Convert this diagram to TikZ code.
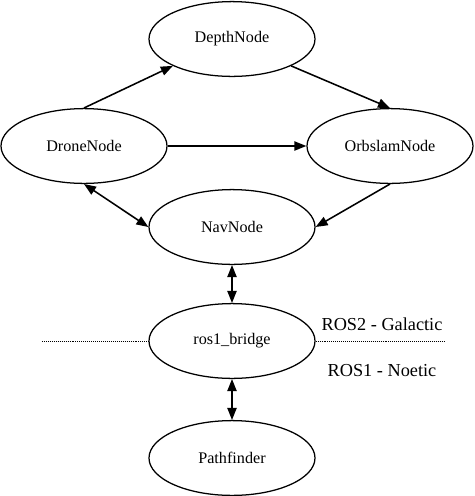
\documentclass[tikz,border=0pt]{standalone}
\usepackage{fontspec}
\setmainfont{Liberation Serif}
\usepackage{tikz}
\usetikzlibrary{arrows.meta, positioning, shapes}

\begin{document}
\begin{tikzpicture}[
    rosnode/.style={ellipse, draw, line width=0.9pt, minimum width=4.15cm, minimum height=1.87cm, inner sep=0pt, font=\fontsize{11.5}{13}\selectfont},
    arrow/.style={-{Triangle[length=3mm, width=2.3mm]}, line width=1.1pt},
    dblarrow/.style={{Triangle[length=3mm, width=2.3mm]}-{Triangle[length=3mm, width=2.3mm]}, line width=1.1pt},
    divider/.style={densely dotted, thin},
    distro/.style={font=\fontsize{13}{15}\selectfont}
]
\useasboundingbox (0,0) rectangle (11.85,-12.4);

% ROS2 side
\node[rosnode] (depth) at (5.8, -0.975) {DepthNode};
\node[rosnode] (drone) at (2.1, -3.65) {DroneNode};
\node[rosnode] (orbslam) at (9.75, -3.65) {OrbslamNode};
\node[rosnode] (nav) at (5.8, -5.675) {NavNode};

\draw[arrow] (drone.north) -- (depth.south west);
\draw[arrow] (depth.south east) -- (orbslam.north);
\draw[arrow] (drone.east) -- (orbslam.west);
\draw[arrow] (orbslam.south) -- (nav.east);
\draw[dblarrow] (drone.south) -- (nav.west);

% Bridge
\node[rosnode] (bridge) at (5.8, -8.525) {ros1\_bridge};
\draw[dblarrow] (nav.south) -- (bridge.north);

\coordinate (lineleft) at (1.05, -8.525);
\coordinate (lineright) at (11.125, -8.525);
\draw[divider] (lineleft) -- (bridge.west);
\draw[divider] (bridge.east) -- (lineright);

\node[distro] (ros2) at (9.55, -8.1) {ROS2 - Galactic};
\node[distro] (ros1) at (9.55, -9.27) {ROS1 - Noetic};

% ROS1 side
\node[rosnode] (path) at (5.8, -11.45) {Pathfinder};
\draw[dblarrow] (bridge.south) -- (path.north);

\end{tikzpicture}
\end{document}
